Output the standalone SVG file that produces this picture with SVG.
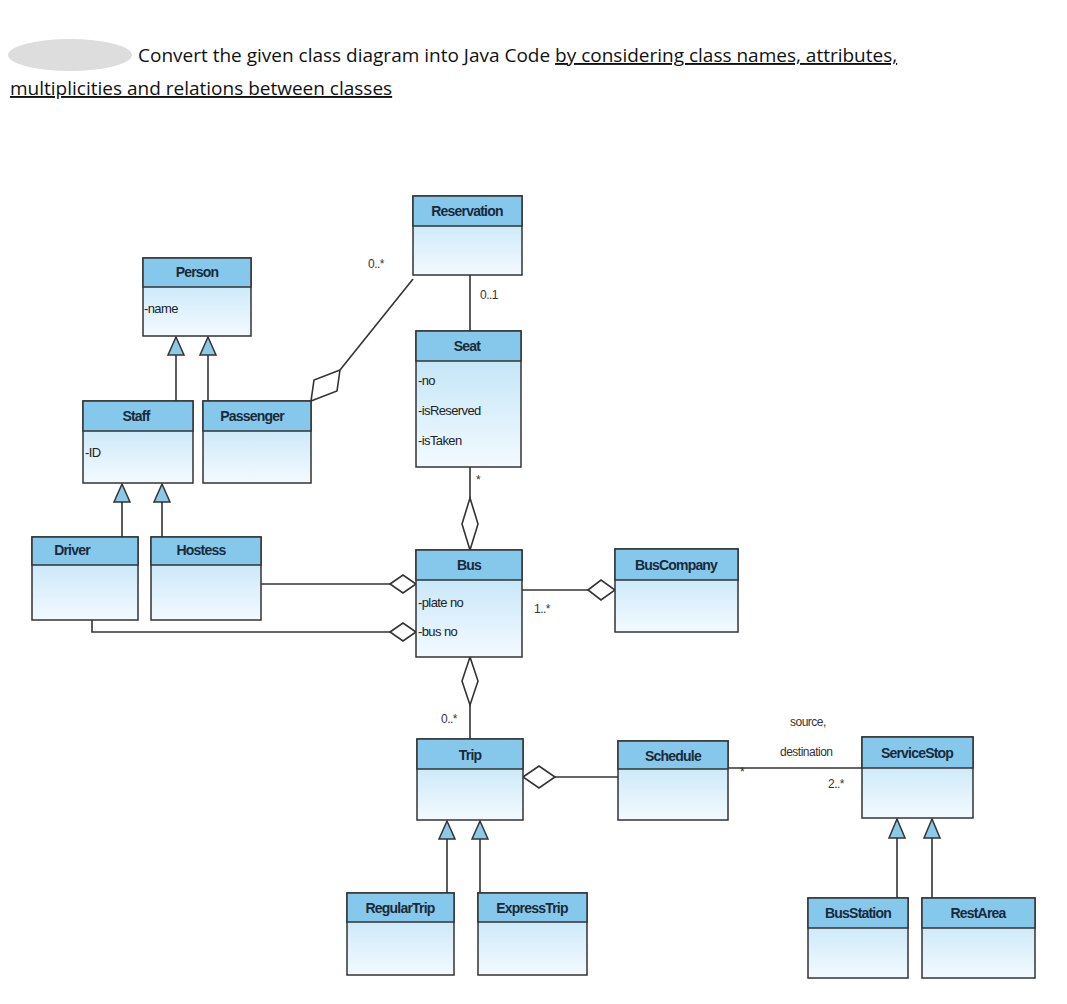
<svg xmlns="http://www.w3.org/2000/svg" width="1067" height="1004" viewBox="0 0 1067 1004">
<defs>
<linearGradient id="body" x1="0" y1="0" x2="0" y2="1"><stop offset="0" stop-color="#b9e0f6"/><stop offset="1" stop-color="#f3faff"/></linearGradient>
<style>
.hd{fill:#86c8ec;stroke:#333;stroke-width:1.5}
.bd{fill:url(#body);stroke:#333;stroke-width:1.5}
.t{font-family:"Liberation Sans",Arial,sans-serif;font-size:14px;font-weight:bold;fill:#1a2a3a;text-anchor:middle;letter-spacing:-0.8px}
.a{font-family:"Liberation Sans",Arial,sans-serif;font-size:13px;fill:#222;letter-spacing:-0.6px}
.m{font-family:"Liberation Sans",Arial,sans-serif;font-size:12px;fill:#333;letter-spacing:-0.5px}
.ln{fill:none;stroke:#333;stroke-width:1.6}
.dm{fill:#fff;stroke:#333;stroke-width:1.6}
.tr{fill:#8cc9e6;stroke:#333;stroke-width:1.5}
.h{font-family:"Open Sans","Liberation Sans",sans-serif;font-size:19px;fill:#111}
</style>
</defs>
<rect width="1067" height="1004" fill="#fff"/>
<ellipse cx="70" cy="55" rx="62" ry="16" fill="#ddd"/>
<text class="h" x="138" y="62">Convert the given class diagram into Java Code <tspan text-decoration="underline">by considering class names, attributes,</tspan></text>
<text class="h" x="10" y="95" text-decoration="underline">multiplicities and relations between classes</text>

<g id="connectors">
<polyline class="ln" points="413,279 340,370"/>
<polygon class="dm" points="311,401 314,380 340,370 337,391"/>
<line class="ln" x1="470" y1="275" x2="470" y2="331"/>
<line class="ln" x1="470" y1="467" x2="470" y2="498"/>
<polygon class="dm" points="470,498 478,524 470,550 462,524"/>
<line class="ln" x1="261" y1="584" x2="390" y2="584"/>
<polygon class="dm" points="390,584 403,575 416,584 403,593"/>
<polyline class="ln" points="92,620 92,632 390,632"/>
<polygon class="dm" points="390,632 403,623 416,632 403,641"/>
<line class="ln" x1="522" y1="590" x2="588" y2="590"/>
<polygon class="dm" points="588,590 601,580 615,590 601,600"/>
<polygon class="dm" points="470,657 478,681 470,705 462,681"/>
<line class="ln" x1="470" y1="705" x2="470" y2="739"/>
<polygon class="dm" points="523,777 539,766 555,777 539,788"/>
<line class="ln" x1="555" y1="777" x2="618" y2="777"/>
<line class="ln" x1="728" y1="768" x2="862" y2="768"/>
<line class="ln" x1="176" y1="355" x2="176" y2="401"/>
<line class="ln" x1="208" y1="355" x2="208" y2="401"/>
<polygon class="tr" points="176,337 168,355 184,355"/>
<polygon class="tr" points="208,337 200,355 216,355"/>
<line class="ln" x1="122" y1="502" x2="122" y2="537"/>
<line class="ln" x1="162" y1="502" x2="162" y2="537"/>
<polygon class="tr" points="122,484 114,502 130,502"/>
<polygon class="tr" points="162,484 154,502 170,502"/>
<line class="ln" x1="447" y1="839" x2="447" y2="893"/>
<line class="ln" x1="480" y1="839" x2="480" y2="893"/>
<polygon class="tr" points="447,821 439,839 455,839"/>
<polygon class="tr" points="480,821 472,839 488,839"/>
<line class="ln" x1="897" y1="838" x2="897" y2="898"/>
<line class="ln" x1="932" y1="838" x2="932" y2="898"/>
<polygon class="tr" points="897,819 889,838 905,838"/>
<polygon class="tr" points="932,819 924,838 940,838"/>
<text class="m" x="368" y="268">0..*</text>
<text class="m" x="480" y="299">0..1</text>
<text class="m" x="476" y="484">*</text>
<text class="m" x="534" y="613">1..*</text>
<text class="m" x="441" y="723">0..*</text>
<text class="m" x="740" y="776">*</text>
<text class="m" x="790" y="726">source,</text>
<text class="m" x="780" y="756">destination</text>
<text class="m" x="828" y="788">2..*</text>
</g>

<g id="Reservation"><rect class="bd" x="413" y="196" width="109" height="79"/><rect class="hd" x="413" y="196" width="109" height="30"/><text class="t" x="467" y="216">Reservation</text></g>
<g id="Person"><rect class="bd" x="143" y="258" width="108" height="78"/><rect class="hd" x="143" y="258" width="108" height="29"/><text class="t" x="197" y="277">Person</text><text class="a" x="144" y="313">-name</text></g>
<g id="Seat"><rect class="bd" x="416" y="331" width="105" height="136"/><rect class="hd" x="416" y="331" width="105" height="30"/><text class="t" x="467" y="351">Seat</text><text class="a" x="418" y="385">-no</text><text class="a" x="418" y="415">-isReserved</text><text class="a" x="418" y="445">-isTaken</text></g>
<g id="Staff"><rect class="bd" x="83" y="401" width="110" height="82"/><rect class="hd" x="83" y="401" width="110" height="30"/><text class="t" x="136" y="421">Staff</text><text class="a" x="85" y="457">-ID</text></g>
<g id="Passenger"><rect class="bd" x="203" y="401" width="108" height="82"/><rect class="hd" x="203" y="401" width="108" height="30"/><text class="t" x="252" y="421">Passenger</text></g>
<g id="Driver"><rect class="bd" x="32" y="537" width="106" height="83"/><rect class="hd" x="32" y="537" width="106" height="28"/><text class="t" x="72" y="555">Driver</text></g>
<g id="Hostess"><rect class="bd" x="151" y="537" width="110" height="83"/><rect class="hd" x="151" y="537" width="110" height="28"/><text class="t" x="201" y="555">Hostess</text></g>
<g id="Bus"><rect class="bd" x="416" y="550" width="106" height="107"/><rect class="hd" x="416" y="550" width="106" height="30"/><text class="t" x="469" y="570">Bus</text><text class="a" x="418" y="607">-plate no</text><text class="a" x="418" y="636">-bus no</text></g>
<g id="BusCompany"><rect class="bd" x="615" y="549" width="123" height="83"/><rect class="hd" x="615" y="549" width="123" height="31"/><text class="t" x="676" y="570">BusCompany</text></g>
<g id="Trip"><rect class="bd" x="417" y="739" width="106" height="81"/><rect class="hd" x="417" y="739" width="106" height="30"/><text class="t" x="470" y="760">Trip</text></g>
<g id="Schedule"><rect class="bd" x="618" y="741" width="110" height="79"/><rect class="hd" x="618" y="741" width="110" height="28"/><text class="t" x="673" y="761">Schedule</text></g>
<g id="ServiceStop"><rect class="bd" x="862" y="737" width="111" height="81"/><rect class="hd" x="862" y="737" width="111" height="31"/><text class="t" x="917" y="758">ServiceStop</text></g>
<g id="RegularTrip"><rect class="bd" x="347" y="893" width="107" height="82"/><rect class="hd" x="347" y="893" width="107" height="29"/><text class="t" x="400" y="913">RegularTrip</text></g>
<g id="ExpressTrip"><rect class="bd" x="478" y="893" width="109" height="82"/><rect class="hd" x="478" y="893" width="109" height="29"/><text class="t" x="532" y="913">ExpressTrip</text></g>
<g id="BusStation"><rect class="bd" x="808" y="898" width="100" height="80"/><rect class="hd" x="808" y="898" width="100" height="30"/><text class="t" x="858" y="918">BusStation</text></g>
<g id="RestArea"><rect class="bd" x="922" y="898" width="113" height="80"/><rect class="hd" x="922" y="898" width="113" height="30"/><text class="t" x="978" y="918">RestArea</text></g>
</svg>
